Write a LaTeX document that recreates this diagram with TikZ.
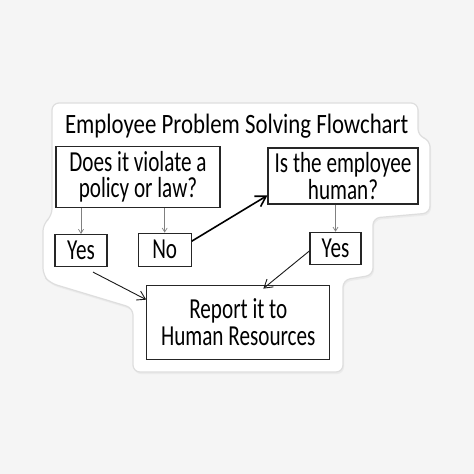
\documentclass[tikz,border=0pt]{standalone}
\usepackage{fontspec}
\setmainfont{Carlito}
\usetikzlibrary{arrows.meta,calc}
\newcommand{\hs}[1]{\scalebox{0.73}[1]{#1}}
\newcommand{\tscale}[1]{\scalebox{0.816}[1]{#1}}
\begin{document}
\begin{tikzpicture}[x=1pt,y=-1pt,
  box/.style={draw=black!85,line width=1.2pt,fill=white,inner sep=0pt,align=center,
    font=\fontsize{29}{26.5}\selectfont},
  thin/.style={draw=black!50,line width=0.7pt,-{Straight Barb[length=4pt,width=5pt]}},
  barb/.style={draw=black!90,line width=0.9pt,-{Straight Barb[length=8pt,width=10pt]}},
  bold/.style={draw=black,line width=1.6pt,-{Straight Barb[length=10pt,width=12pt]}},
  sticker/.style={rounded corners=7pt}]
\useasboundingbox (0,0) rectangle (474,474);
\fill[black!4] (0,0) rectangle (474,474);
% sticker shadow and body
\path[sticker,fill=black!8] (53,105) -- (419,105) -- (419,138) -- (431,142) -- (431,215) -- (374,220) -- (374,277) -- (344,282) -- (344,374) -- (134,374) -- (134,310) -- (51,285) -- (44,277) -- (44,226) -- (53,218) -- cycle;
\path[sticker,fill=white,draw=black!13,line width=1.2pt] (52,103) -- (418,103) -- (418,136) -- (430,140) -- (430,213) -- (373,218) -- (373,275) -- (343,280) -- (343,372) -- (133,372) -- (133,308) -- (50,283) -- (43,275) -- (43,224) -- (52,216) -- cycle;
% title
\node[inner sep=0pt,anchor=base,font=\fontsize{28}{28}\selectfont] (title) at (236.7,133) {\tscale{Employee Problem Solving Flowchart}};
% boxes
\node[box,minimum width=164pt,minimum height=61pt] (q1) at (138,177) {\hs{Does it violate a}\\\hs{policy or law?}};
\node[box,minimum width=150pt,minimum height=56pt] (q2) at (343,176) {\hs{Is the employee}\\\hs{human?}};
\node[box,minimum width=52pt,minimum height=32pt] (yes1) at (81,250.5) {\hs{Yes}};
\node[box,minimum width=53pt,minimum height=33pt] (no) at (164.7,249.7) {\hs{No}};
\node[box,minimum width=51pt,minimum height=32pt] (yes2) at (335.5,248.3) {\hs{Yes}};
\node[box,minimum width=183pt,minimum height=74pt] (rep) at (238.3,322.2) {\hs{Report it to}\\\hs{Human Resources}};
% connectors
\draw[thin] (q1.south -| yes1) -- (yes1.north);
\draw[thin] (q1.south -| no) -- (no.north);
\draw[thin] (q2.south -| yes2) -- (yes2.north);
\draw[bold] ($(no.north east)!0.25!(no.south east)$) -- ($(q2.north west)!0.84!(q2.south west)$);
\draw[barb] ([xshift=12pt,yshift=-5pt]yes1.south) -- ($(rep.north west)!0.2!(rep.south west)$);
\draw[barb] ($(yes2.north west)!0.58!(yes2.south west)$) -- ([xshift=25pt,yshift=-4pt]rep.north);
\end{tikzpicture}
\end{document}
